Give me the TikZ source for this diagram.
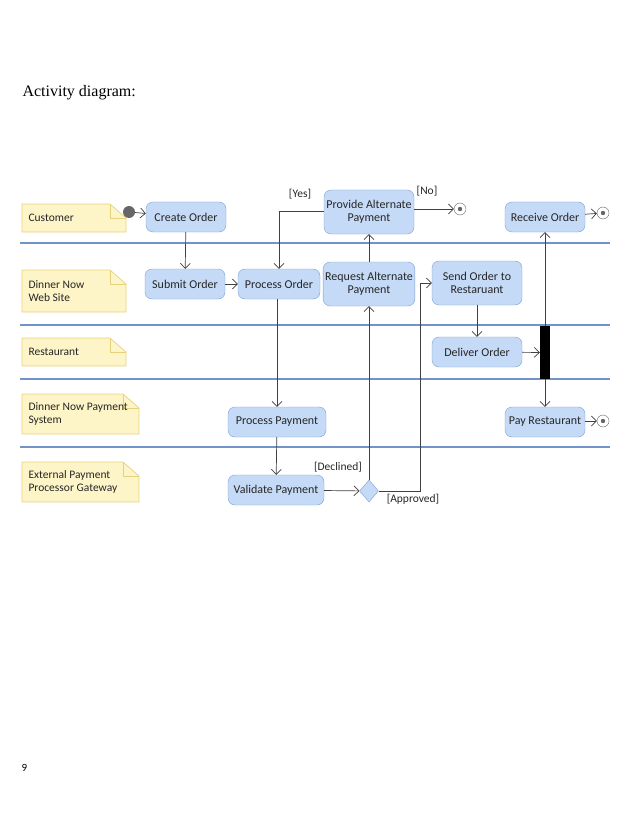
\documentclass[tikz,border=0pt]{standalone}
\usepackage{fontspec}
\setmainfont{Liberation Serif}
\newfontfamily\uifont{Carlito}
\usetikzlibrary{arrows.meta,shapes.geometric}
\definecolor{actfill}{HTML}{C5DAF6}
\definecolor{actdraw}{HTML}{7A9FD4}
\definecolor{lane}{HTML}{7094C8}
\definecolor{notefill}{HTML}{FDF5C8}
\definecolor{notedraw}{HTML}{E6D27E}
\begin{document}
\begin{tikzpicture}[x=1pt,y=-1pt,
  act/.style={draw=actdraw,fill=actfill,rounded corners=7pt,minimum height=30pt,inner sep=2pt,font=\uifont\fontsize{12}{13.5}\selectfont,align=center,text=black!85},
  lbl/.style={font=\uifont\fontsize{11.5}{13.5}\selectfont,text=black!85},
  flow/.style={draw=black!75,line width=0.7pt,-{Straight Barb[length=5pt,width=10pt]}},
  lanel/.style={draw=lane,line width=1.3pt},
  fin/.style={circle,draw=black!60,fill=white,minimum size=12pt,inner sep=0pt,path picture={\fill[black!60] (path picture bounding box.center) circle (2.2pt);}}]
\useasboundingbox (0,0) rectangle (638,826);
\node[anchor=west,font=\fontsize{16}{18}\selectfont] (title) at (19,93) {Activity diagram:};
\node[anchor=west,font=\uifont\fontsize{11}{12}\selectfont] (pg) at (18,768) {9};
% lanes
\foreach \y [count=\i] in {243,325,379,447}{\draw[lanel] (20,\y) -- (610,\y);}
% notes
\newcommand{\note}[5]{% x1 y1 x2 y2 name
  \fill[notefill] (#1,#2) -- (#3-16,#2) -- (#3,#2+14) -- (#3,#4) -- (#1,#4) -- cycle;
  \draw[notedraw,line width=0.7pt] (#1,#2) -- (#3-16,#2) -- (#3,#2+14) -- (#3,#4) -- (#1,#4) -- cycle;
  \draw[notedraw,line width=0.7pt] (#3-16,#2) -- (#3-16,#2+14) -- (#3,#2+14);
  \coordinate (#5) at (#1+3,{(#2+#4)/2});}
\note{22}{204}{126}{232}{n1}
\note{22}{270}{126}{312}{n2}
\note{22}{338}{126}{366}{n3}
\note{22}{394}{139}{434}{n4}
\note{22}{462}{139}{502}{n5}
\node[lbl,anchor=west] at (n1) {Customer};
\node[lbl,anchor=west,align=left] at (n2) {Dinner Now\\Web Site};
\node[lbl,anchor=west] at (n3) {Restaurant};
\node[lbl,anchor=west,align=left] at (n4) {Dinner Now Payment\\System};
\node[lbl,anchor=west,align=left] at (n5) {External Payment\\Processor Gateway};
% activities
\node[act,minimum width=80pt] (create) at (186,217) {Create Order};
\node[act,minimum width=80pt] (submit) at (185,284) {Submit Order};
\node[act,minimum width=82pt] (porder) at (279,284) {Process Order};
\node[act,minimum width=90pt,minimum height=44pt] (provide) at (369,212) {Provide Alternate\\Payment};
\node[act,minimum width=90pt,minimum height=44pt] (request) at (369,284) {Request Alternate\\Payment};
\node[act,minimum width=90pt,minimum height=44pt] (send) at (477,283) {Send Order to\\Restaruant};
\node[act,minimum width=90pt] (deliver) at (477,352) {Deliver Order};
\node[act,minimum width=80pt] (receive) at (545,217) {Receive Order};
\node[act,minimum width=98pt] (ppay) at (277,422) {Process Payment};
\node[act,minimum width=96pt] (validate) at (276,490) {Validate Payment};
\node[act,minimum width=80pt] (payr) at (545,422) {Pay Restaurant};
\node[circle,fill=black!60,minimum size=12pt,inner sep=0pt] (init) at (129,212) {};
\node[fin] (f1) at (460,209) {};
\node[fin] (f2) at (603,213) {};
\node[fin] (f3) at (603,421) {};
\node[diamond,draw=actdraw,fill=actfill,minimum width=19pt,minimum height=22pt,inner sep=0pt] (dec) at (369,491) {};
\node[fill=black,minimum width=10pt,minimum height=53pt,inner sep=0pt] (fork) at (545,352.5) {};
% flows
\draw[flow] (init) -- (create);
\draw[flow] (create) -- (submit);
\draw[flow] (submit) -- (porder);
\draw[flow] (provide.west |- 0,211) -| (porder.north);
\draw[flow] (provide.east |- f1) -- (f1);
\draw[flow] (request) -- (provide);
\draw[flow] (porder.south -| 277,0) -- (ppay.north -| 277,0);
\draw[flow] (ppay) -- (validate);
\draw[flow] (validate) -- (dec);
\draw[flow] (dec.north) -- (request.south);
\draw[flow] (dec.east) -| (420,283) -- (send.west |- 0,283);
\draw[flow] (send) -- (deliver);
\draw[flow] (deliver) -- (fork);
\draw[flow] (fork.north) -- (receive.south);
\draw[flow] (fork.south) -- (payr.north);
\draw[flow] (receive) -- (f2);
\draw[flow] (payr.east |- f3) -- (f3);
\node[lbl] (yes) at (300,194) {[Yes]};
\node[lbl] (no) at (427,191) {[No]};
\node[lbl] (decl) at (338,467) {[Declined]};
\node[lbl] (appr) at (413,499) {[Approved]};
\end{tikzpicture}
\end{document}
